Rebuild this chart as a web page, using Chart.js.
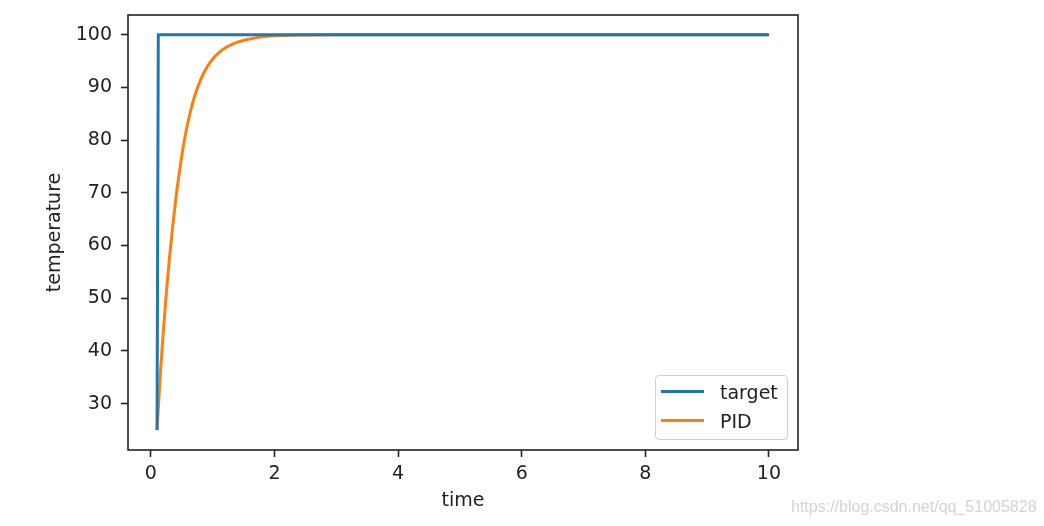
<!DOCTYPE html>
<html>
<head>
<meta charset="utf-8">
<script src="https://cdn.jsdelivr.net/npm/chart.js@4/dist/chart.umd.min.js"></script>
<style>
  html, body { margin: 0; padding: 0; background: #fff; }
  #wrap { position: relative; width: 1044px; height: 526px; overflow: hidden; }
  #c { position: absolute; left: 0; top: 0; }
  #legend { position: absolute; left: 655px; top: 375px; width: 131px; height: 63px;
    border: 1px solid #d0d0d0; border-radius: 4px; background: rgba(255,255,255,0.8);
    font-family: "DejaVu Sans", sans-serif; font-size: 19px; color: #222; }
  .row { position: absolute; left: 0; height: 24px; line-height: 24px; }
  .swatch { position: absolute; left: 5px; width: 43px; height: 3px; }
  .lab { position: absolute; left: 64px; white-space: nowrap; }
  #wm { position: absolute; left: 791px; top: 498px; font-family: "Liberation Sans", Arial, sans-serif;
    font-size: 16px; color: #d4d4d4; white-space: nowrap; }
</style>
</head>
<body>
<div id="wrap">
  <canvas id="c" width="1044" height="526"></canvas>
  <div id="legend"></div>
  <div id="wm">https://blog.csdn.net/qq_51005828</div>
</div>
<script>
// ---- data ----
const targetTime = [0.1, 0.12, 10];
const targetTemp = [25, 100, 100];
const pidTime = [0.1, 0.15, 0.2, 0.25, 0.3, 0.35, 0.4, 0.45, 0.5, 0.55, 0.6, 0.65, 0.7, 0.75, 0.8, 0.85, 0.9, 0.95, 1.0, 1.1, 1.2, 1.3, 1.4, 1.6, 1.8, 2.0, 2.5, 3.0, 4.0, 6.0, 8.0, 10.0];
const pidTemp = [25, 35, 43.5, 51, 57.5, 63.3, 68.5, 73, 77, 80.5, 83.4, 85.9, 88, 89.8, 91.3, 92.6, 93.7, 94.6, 95.4, 96.6, 97.5, 98.1, 98.6, 99.2, 99.6, 99.8, 99.95, 100, 100, 100, 100, 100];
const xTicks = [0, 2, 4, 6, 8, 10];
const yTicks = [30, 40, 50, 60, 70, 80, 90, 100];
const seriesNames = ['target', 'PID'];
const seriesColors = ['#1f77b4', '#ff7f0e'];
const xTitle = 'time';
const yTitle = 'temperature';

const toPts = (xs, ys) => xs.map((x, i) => ({ x: x, y: ys[i] }));

const FONT = { family: "'DejaVu Sans', sans-serif", size: 19 };
const TXT = '#222';

const frame = {
  id: 'frame',
  afterDraw(chart) {
    const a = chart.chartArea, ctx = chart.ctx;
    ctx.save();
    ctx.strokeStyle = '#222';
    ctx.lineWidth = 1.6;
    ctx.strokeRect(a.left, a.top, a.right - a.left, a.bottom - a.top);
    ctx.restore();
  }
};

new Chart(document.getElementById('c'), {
  type: 'line',
  data: {
    datasets: [
      { label: seriesNames[0], data: toPts(targetTime, targetTemp), borderColor: seriesColors[0],
        borderWidth: 3, pointRadius: 0, tension: 0, fill: false },
      { label: seriesNames[1], data: toPts(pidTime, pidTemp), borderColor: seriesColors[1],
        borderWidth: 3, pointRadius: 0, cubicInterpolationMode: 'monotone', fill: false }
    ]
  },
  options: {
    responsive: false,
    animation: false,
    devicePixelRatio: 1,
    layout: { padding: { left: 0, top: 15, right: 246, bottom: 0 } },
    plugins: { legend: { display: false }, tooltip: { enabled: false } },
    scales: {
      x: {
        type: 'linear', min: -0.37, max: 10.47,
        afterBuildTicks: s => { s.ticks = xTicks.map(v => ({ value: v })); },
        afterFit: s => { s.height = 76; s.paddingLeft = 0; s.paddingRight = 0; },
        grid: { drawOnChartArea: false, tickLength: 7, tickColor: '#222', tickWidth: 1.6 },
        border: { display: false },
        ticks: { color: TXT, font: FONT, padding: 6, maxRotation: 0 },
        title: { display: true, text: xTitle, color: TXT, font: FONT, padding: { top: 2, bottom: 14 } }
      },
      y: {
        type: 'linear', min: 21.2, max: 103.75,
        afterBuildTicks: s => { s.ticks = yTicks.map(v => ({ value: v })); },
        afterFit: s => { s.width = 128; s.paddingTop = 0; s.paddingBottom = 0; },
        grid: { drawOnChartArea: false, tickLength: 7, tickColor: '#222', tickWidth: 1.6 },
        border: { display: false },
        ticks: { color: TXT, font: FONT, padding: 9 },
        title: { display: true, text: yTitle, color: TXT, font: FONT, padding: { top: 44, bottom: 0 } }
      }
    }
  },
  plugins: [frame]
});

// legend overlay (real text)
const leg = document.getElementById('legend');
seriesNames.forEach((name, i) => {
  const row = document.createElement('div');
  row.className = 'row';
  row.style.top = (4 + i * 29) + 'px';
  row.style.width = '100%';
  const sw = document.createElement('div');
  sw.className = 'swatch';
  sw.style.background = seriesColors[i];
  sw.style.top = '10px';
  const lab = document.createElement('div');
  lab.className = 'lab';
  lab.textContent = name;
  row.appendChild(sw); row.appendChild(lab);
  leg.appendChild(row);
});
</script>
</body>
</html>
